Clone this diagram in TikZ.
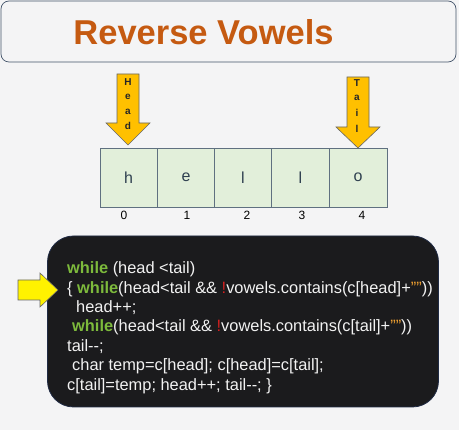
\documentclass[tikz,border=0pt]{standalone}
\usepackage{fontspec}
\setmainfont{Liberation Sans}
\definecolor{bg}{HTML}{F4F4F5}
\definecolor{titleor}{HTML}{C55A11}
\definecolor{frame}{HTML}{44546A}
\definecolor{cellfill}{HTML}{E2EFDA}
\definecolor{celldraw}{HTML}{5F7080}
\definecolor{celltext}{HTML}{2F4050}
\definecolor{gold}{HTML}{FFC000}
\definecolor{codebg}{HTML}{1B1B1D}
\definecolor{codeframe}{HTML}{1F2A44}
\definecolor{kw}{HTML}{7DBA3C}
\definecolor{bang}{HTML}{D42020}
\definecolor{quo}{HTML}{F0A030}
\definecolor{codetxt}{HTML}{F2F2F2}
\tikzset{
  cell/.style={draw=celldraw, fill=cellfill, minimum height=59pt, inner sep=0pt, font=\fontsize{16}{16}\selectfont, text=celltext},
  idx/.style={font=\fontsize{12}{12}\selectfont, text=black},
  ptr/.style={fill=gold, draw=gray!80!black, line width=0.6pt},
  ptrtxt/.style={font=\bfseries\fontsize{10}{10}\selectfont, text=black!85},
  codeline/.style={anchor=base west, inner sep=0pt, font=\fontsize{16.4}{16.4}\selectfont, text=codetxt},
}
\newcommand{\kwd}[1]{{\color{kw}\bfseries #1}}
\newcommand{\bng}{{\color{bang}!}}
\newcommand{\quq}{{\color{quo}""}}
\begin{document}
\begin{tikzpicture}[x=1pt,y=-1pt]
\useasboundingbox[fill=bg] (0,0) rectangle (459,430);
% title
\node[draw=frame, line width=0.7pt, rounded corners=8pt, minimum width=455pt, minimum height=61pt, inner sep=0pt] (titlebox) at (228.5,31.5) {};
\node[font=\bfseries\fontsize{34.5}{34.5}\selectfont, text=titleor] (title) at (203.5,32) {Reverse Vowels};
% array cells
\foreach \i/\x/\w/\c in {0/128.5/57/h,1/186/58/e,2/243/57/l,3/300.5/58/l,4/358/58/o}{
  \node[cell, minimum width=\w pt] (c\i) at (\x,177.5) {\c};
}
% indices
\foreach \i/\x in {0/124,1/187,2/247,3/302,4/362}{
  \node[idx] (i\i) at (\x,215) {\i};
}
% head pointer
\draw[ptr] (117,74) -- (139,74) -- (139,123) -- (150,123) -- (128,145) -- (106,123) -- (117,123) -- cycle;
\node[ptrtxt] (hH) at (128,82) {H};
\node[ptrtxt] (he) at (128,97) {e};
\node[ptrtxt] (ha) at (128,112) {a};
\node[ptrtxt] (hd) at (128,126) {d};
% tail pointer
\draw[ptr] (347,77) -- (369,77) -- (369,127) -- (380,127) -- (358,148) -- (336,127) -- (347,127) -- cycle;
\node[ptrtxt] (tT) at (357,83) {T};
\node[ptrtxt] (ta) at (357,98) {a};
\node[ptrtxt] (ti) at (357,113) {i};
\node[ptrtxt] (tl) at (357,129) {l};
% code box
\node[draw=codeframe, fill=codebg, line width=0.8pt, rounded corners=26pt, minimum width=391pt, minimum height=171pt, inner sep=0pt] (codebox) at (243,321.5) {};
\node[codeline] (l1) at (67,274) {\kwd{while} (head <tail)};
\node[codeline] (l2) at (67,293.4) {\{ \kwd{while}(head<tail \&\& \bng vowels.contains(c[head]+\quq))};
\node[codeline] (l3) at (76,312.8) {head++;};
\node[codeline] (l4) at (72,332) {\kwd{while}(head<tail \&\& \bng vowels.contains(c[tail]+\quq))};
\node[codeline] (l5) at (67,351.5) {tail-{}-;};
\node[codeline] (l6) at (72,371) {char temp=c[head]; c[head]=c[tail];};
\node[codeline] (l7) at (67,390.5) {c[tail]=temp; head++; tail-{}-; \}};
% current line marker
\draw[fill=yellow, draw=gray!80!black, line width=0.6pt] (18,280) -- (40,280) -- (40,273) -- (58,290) -- (40,307) -- (40,300) -- (18,300) -- cycle;
\end{tikzpicture}
\end{document}
